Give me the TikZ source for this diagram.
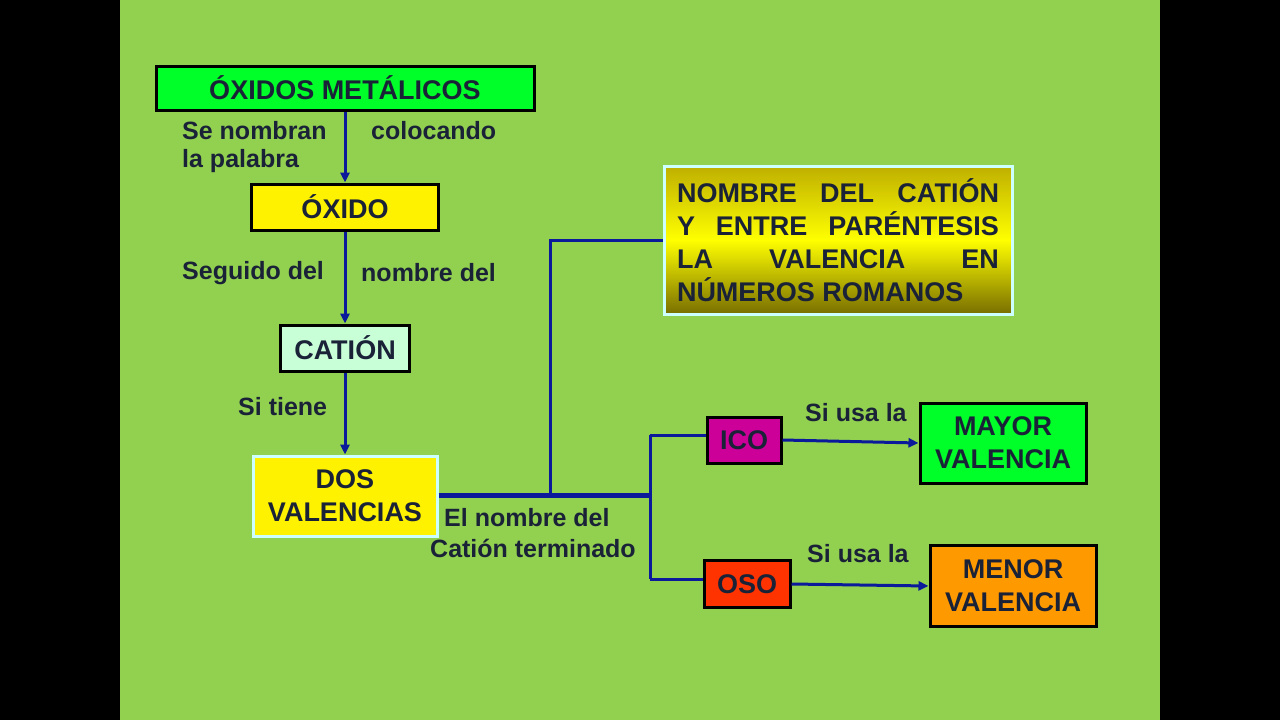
\documentclass[tikz,border=0pt]{standalone}
\usepackage{fontspec}
\setmainfont{Liberation Sans}
\usetikzlibrary{arrows.meta}
\definecolor{bg}{HTML}{92D050}
\definecolor{ink}{HTML}{1A2238}
\definecolor{ln}{HTML}{0A1A9A}
\newcommand{\jline}[1]{\makebox[322pt][s]{#1}}
\begin{document}
\begin{tikzpicture}[x=1pt,y=-1pt,
  box/.style={draw=black,line width=3pt,font=\bfseries\fontsize{27}{33}\selectfont,text=ink,align=center,inner sep=0pt},
  lbl/.style={anchor=west,font=\bfseries\fontsize{25}{28}\selectfont,text=ink,inner sep=0pt},
  con/.style={draw=ln,line width=3pt},
  arr/.style={con,-{Triangle[length=10pt,width=9pt]}}]
\useasboundingbox (0,0) rectangle (1280,720);
\fill[black] (0,0) rectangle (1280,720);
\fill[bg] (120,0) rectangle (1160,720);
\node[box,fill={rgb,255:red,0;green,255;blue,40},minimum width=378pt,minimum height=44pt] (ox) at (345,88) {ÓXIDOS METÁLICOS};
\node[box,fill=yellow,minimum width=187pt,minimum height=46pt] (oxido) at (345,207) {ÓXIDO};
\node[box,fill={rgb,255:red,200;green,255;blue,215},minimum width=129pt,minimum height=46pt] (cat) at (345,348) {CATIÓN};
\node[box,draw={rgb,255:red,204;green,255;blue,255},fill=yellow,minimum width=184pt,minimum height=80pt,line width=3pt] (dos) at (345,496) {DOS\\VALENCIAS};
\node[box,draw={rgb,255:red,204;green,255;blue,255},line width=3pt,top color={rgb,255:red,190;green,175;blue,0},bottom color={rgb,255:red,120;green,110;blue,0},middle color=yellow,minimum width=348pt,minimum height=148pt,align=left,font=\bfseries\fontsize{27}{33}\selectfont] (nom) at (838,240) {\jline{NOMBRE\hfill DEL\hfill CATIÓN}\\\jline{Y\hfill ENTRE\hfill PARÉNTESIS}\\\jline{LA\hfill VALENCIA\hfill EN}\\\jline{NÚMEROS ROMANOS\hfill}};
\node[box,fill={rgb,255:red,204;green,0;blue,153},minimum width=74pt,minimum height=46pt] (ico) at (744,440) {ICO};
\node[box,fill={rgb,255:red,255;green,51;blue,0},minimum width=86pt,minimum height=47pt] (oso) at (747,584) {OSO};
\node[box,fill={rgb,255:red,0;green,255;blue,40},minimum width=166pt,minimum height=80pt] (may) at (1003,443) {MAYOR\\VALENCIA};
\node[box,fill={rgb,255:red,255;green,153;blue,0},minimum width=166pt,minimum height=81pt] (men) at (1013,586) {MENOR\\VALENCIA};
\draw[arr] (ox.south) -- (oxido.north);
\draw[arr] (oxido.south) -- (cat.north);
\draw[arr] (cat.south) -- (dos.north);
\coordinate (j1) at (550,495);
\coordinate (j2) at (650,495);
\draw[con,line width=5pt] (dos.east |- j1) -- (j2);
\draw[con] (j1) -- (550,240) -- (nom.west);
\draw[con] (650,435) -- (650,579);
\draw[con] (650,435) -- (ico.west |- 650,435);
\draw[con] (650,579) -- (oso.west |- 650,579);
\draw[arr] (ico.east) -- (may.west);
\draw[arr] (oso.east) -- (men.west);
\node[lbl] (l1) at (182,131) {Se nombran};
\node[lbl] (l2) at (182,161) {la palabra};
\node[lbl] (l3) at (371,131) {colocando};
\node[lbl] (l4) at (182,273) {Seguido del};
\node[lbl] (l5) at (361,273) {nombre del};
\node[lbl] (l6) at (238,407) {Si tiene};
\node[lbl] (l7) at (444,518) {El nombre del};
\node[lbl] (l8) at (430,548) {Catión terminado};
\node[lbl] (l9) at (805,413) {Si usa la};
\node[lbl] (l10) at (807,554) {Si usa la};
\end{tikzpicture}
\end{document}
